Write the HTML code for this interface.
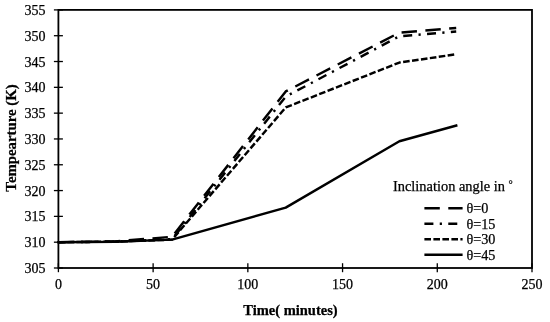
<!DOCTYPE html>
<html><head><meta charset="utf-8"><title>Temperature vs Time</title>
<style>
html,body{margin:0;padding:0;background:#fff;}
body{width:550px;height:322px;overflow:hidden;}
svg{display:block;font-family:"Liberation Serif","Times New Roman",serif;fill:#000;}
.tk{font-size:14px;}
.lb{font-size:14.5px;font-weight:bold;}
.yl{font-size:14.8px;}
text{stroke:#000;stroke-width:0.25px;}
.lg{font-size:14.2px;}
.ti{font-size:14.4px;}
</style></head><body>
<svg width="550" height="322" viewBox="0 0 550 322">
<rect x="0" y="0" width="550" height="322" fill="#fff"/>
<rect x="58.4" y="9.9" width="473.6" height="258.1" fill="none" stroke="#000" stroke-width="1.8"/>
<line x1="53.9" y1="268.00" x2="62.9" y2="268.00" stroke="#000" stroke-width="1.3"/>
<text class="tk" x="45.5" y="273.00" text-anchor="end">305</text>
<line x1="53.9" y1="242.19" x2="62.9" y2="242.19" stroke="#000" stroke-width="1.3"/>
<text class="tk" x="45.5" y="247.19" text-anchor="end">310</text>
<line x1="53.9" y1="216.38" x2="62.9" y2="216.38" stroke="#000" stroke-width="1.3"/>
<text class="tk" x="45.5" y="221.38" text-anchor="end">315</text>
<line x1="53.9" y1="190.57" x2="62.9" y2="190.57" stroke="#000" stroke-width="1.3"/>
<text class="tk" x="45.5" y="195.57" text-anchor="end">320</text>
<line x1="53.9" y1="164.76" x2="62.9" y2="164.76" stroke="#000" stroke-width="1.3"/>
<text class="tk" x="45.5" y="169.76" text-anchor="end">325</text>
<line x1="53.9" y1="138.95" x2="62.9" y2="138.95" stroke="#000" stroke-width="1.3"/>
<text class="tk" x="45.5" y="143.95" text-anchor="end">330</text>
<line x1="53.9" y1="113.14" x2="62.9" y2="113.14" stroke="#000" stroke-width="1.3"/>
<text class="tk" x="45.5" y="118.14" text-anchor="end">335</text>
<line x1="53.9" y1="87.33" x2="62.9" y2="87.33" stroke="#000" stroke-width="1.3"/>
<text class="tk" x="45.5" y="92.33" text-anchor="end">340</text>
<line x1="53.9" y1="61.52" x2="62.9" y2="61.52" stroke="#000" stroke-width="1.3"/>
<text class="tk" x="45.5" y="66.52" text-anchor="end">345</text>
<line x1="53.9" y1="35.71" x2="62.9" y2="35.71" stroke="#000" stroke-width="1.3"/>
<text class="tk" x="45.5" y="40.71" text-anchor="end">350</text>
<line x1="53.9" y1="9.90" x2="62.9" y2="9.90" stroke="#000" stroke-width="1.3"/>
<text class="tk" x="45.5" y="14.90" text-anchor="end">355</text>
<line x1="58.40" y1="263.2" x2="58.40" y2="272.2" stroke="#000" stroke-width="1.3"/>
<text class="tk" x="58.40" y="289.0" text-anchor="middle">0</text>
<line x1="153.12" y1="263.2" x2="153.12" y2="272.2" stroke="#000" stroke-width="1.3"/>
<text class="tk" x="153.12" y="289.0" text-anchor="middle">50</text>
<line x1="247.84" y1="263.2" x2="247.84" y2="272.2" stroke="#000" stroke-width="1.3"/>
<text class="tk" x="247.84" y="289.0" text-anchor="middle">100</text>
<line x1="342.56" y1="263.2" x2="342.56" y2="272.2" stroke="#000" stroke-width="1.3"/>
<text class="tk" x="342.56" y="289.0" text-anchor="middle">150</text>
<line x1="437.28" y1="263.2" x2="437.28" y2="272.2" stroke="#000" stroke-width="1.3"/>
<text class="tk" x="437.28" y="289.0" text-anchor="middle">200</text>
<line x1="532.00" y1="263.2" x2="532.00" y2="272.2" stroke="#000" stroke-width="1.3"/>
<text class="tk" x="532.00" y="289.0" text-anchor="middle">250</text>
<polyline points="58.40,242.19 115.23,241.67 172.06,239.61 285.73,207.60 399.39,141.27 456.22,125.53" fill="none" stroke="#000" stroke-width="2.45" stroke-linejoin="round" stroke-linecap="square"/>
<polyline points="58.40,242.19 115.23,241.67 172.06,239.61 285.73,107.46 399.39,62.55 456.22,54.29" fill="none" stroke="#000" stroke-width="2.45" stroke-linejoin="round" stroke-dasharray="6.6 2.4" stroke-dashoffset="0"/>
<polyline points="58.40,242.19 115.23,241.67 172.06,239.09 285.73,96.62 399.39,36.23 456.22,31.58" fill="none" stroke="#000" stroke-width="2.45" stroke-linejoin="round" stroke-dasharray="9 6.34 2.2 6.34" stroke-dashoffset="1.3"/>
<polyline points="58.40,242.19 115.23,241.42 172.06,236.77 285.73,91.46 399.39,32.61 456.22,27.97" fill="none" stroke="#000" stroke-width="2.45" stroke-linejoin="round" stroke-dasharray="15.4 8.48" stroke-dashoffset="1.3"/>
<text class="ti" x="393" y="191">Inclination angle in <tspan font-size="10.5" dy="-2.6">°</tspan></text>
<line x1="424.4" y1="208.3" x2="462.6" y2="208.3" stroke="#000" stroke-width="2.45" stroke-dasharray="15.4 8.48"/>
<text class="lg" x="466.4" y="213.30">θ=0</text>
<line x1="424.4" y1="223.8" x2="462.6" y2="223.8" stroke="#000" stroke-width="2.45" stroke-dasharray="9 6.34 2.2 6.34"/>
<text class="lg" x="466.4" y="228.80">θ=15</text>
<line x1="424.4" y1="239.3" x2="462.6" y2="239.3" stroke="#000" stroke-width="2.45" stroke-dasharray="6.6 2.4"/>
<text class="lg" x="466.4" y="244.30">θ=30</text>
<line x1="424.4" y1="254.8" x2="462.6" y2="254.8" stroke="#000" stroke-width="2.45"/>
<text class="lg" x="466.4" y="259.80">θ=45</text>
<text class="lb" x="290.5" y="315.4" text-anchor="middle">Time( minutes)</text>
<text class="lb yl" transform="translate(15.5,138) rotate(-90)" text-anchor="middle">Tempearture (K)</text>
</svg></body></html>
